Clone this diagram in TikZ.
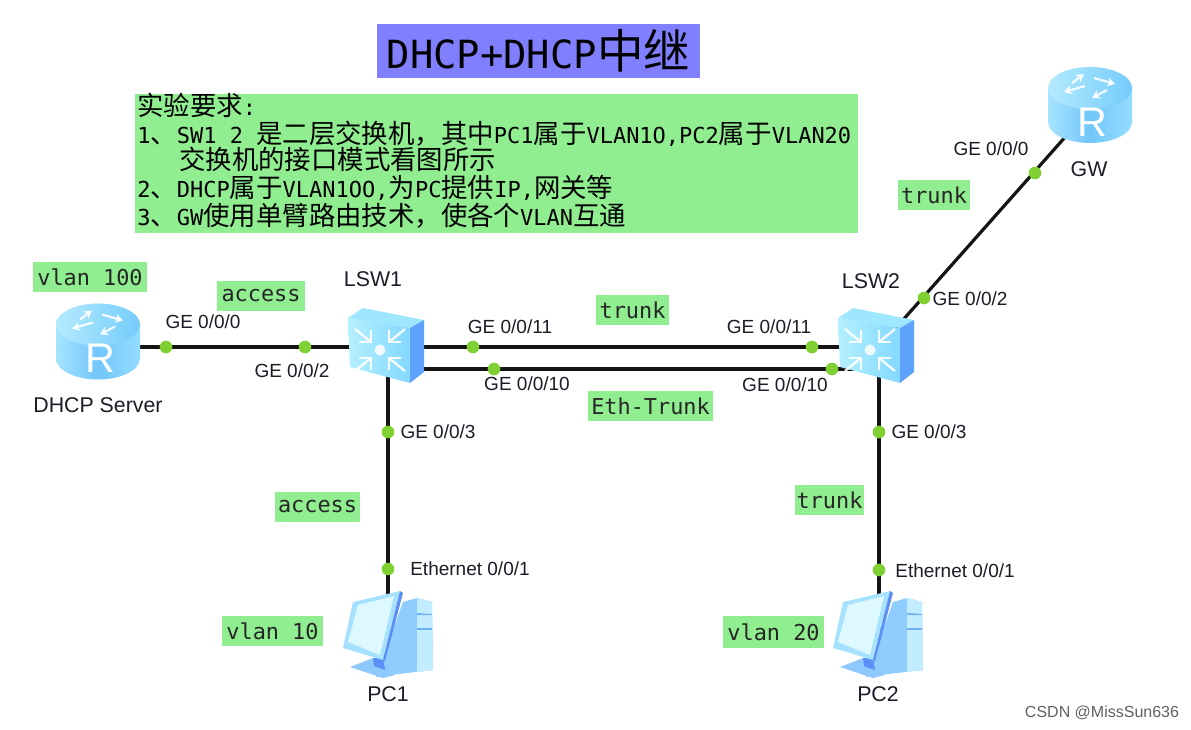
\documentclass[tikz,border=0pt]{standalone}
\usepackage{fontspec}
\usetikzlibrary{arrows.meta}
\setmainfont{Liberation Sans}
\newfontfamily\monof{DejaVu Sans Mono}
\newfontfamily\cjkf[Scale=1.2]{Noto Sans CJK SC}
\newcommand\zh[1]{{\cjkf #1}}
\definecolor{tagg}{HTML}{90EE90}
\definecolor{titleb}{HTML}{8080FF}
\definecolor{dotg}{HTML}{7FD133}
\definecolor{labc}{HTML}{1C1C28}
\definecolor{bodya}{HTML}{A6E4FF}
\definecolor{bodyb}{HTML}{72C6FA}
\definecolor{bodyc}{HTML}{94DCFF}
\definecolor{topa}{HTML}{B4EAFF}
\definecolor{topb}{HTML}{74CCFA}
\definecolor{swtop}{HTML}{9FE6FF}
\definecolor{swa}{HTML}{B4F0FF}
\definecolor{swb}{HTML}{84D8FF}
\definecolor{swside}{HTML}{5FA2FB}
\definecolor{pcside}{HTML}{90CDFF}
\definecolor{pcfront}{HTML}{C2ECFF}
\definecolor{pcslot}{HTML}{6FB0F8}
\definecolor{pcframe}{HTML}{A6E2FF}
\definecolor{pcscreen}{HTML}{DDF8FF}
\definecolor{pcedge}{HTML}{5B8FF5}
\definecolor{pcbase}{HTML}{8FC8FC}
\tikzset{
  x=0.75pt,y=-0.75pt,
  tagbox/.style={fill=tagg,inner sep=0pt,font=\monof\fontsize{16.4}{18}\selectfont,text=black!85},
  reqline/.style={anchor=west,inner sep=0pt,font=\monof\fontsize{16.5}{20}\selectfont,text=black},
  lab/.style={inner sep=0pt,text=labc,font=\fontsize{14.25}{16}\selectfont},
  devname/.style={inner sep=0pt,text=labc,font=\fontsize{16}{18}\selectfont},
  dev/.style={inner sep=0pt,minimum size=10pt},
  linkline/.style={line width=2.4pt,draw=black!92},
  portdot/.style={circle,fill=dotg,inner sep=0pt,minimum size=9.5pt},
  glyph/.style={draw=white,opacity=.85,line width=1.7pt},
  glyphtip/.style={glyph,-{Stealth[length=6pt,width=7pt]}},
  router/.pic={
    \shade[left color=bodya,right color=bodyc,middle color=bodyb]
      (-42,-17) -- (-42,17) arc[start angle=180,end angle=0,x radius=42,y radius=21] -- (42,-17) -- cycle;
    \shade[left color=topa,right color=topb]
      (0,-17) ellipse[x radius=42,y radius=21];
    \draw[glyphtip] (-18,-22) -- (-6,-31);
    \draw[glyphtip] (4,-27) -- (25,-21);
    \draw[glyphtip] (-5,-19) -- (-26,-13);
    \draw[glyphtip] (17,-15) -- (2,-7);
    \node[inner sep=0pt,text=white,font=\fontsize{31}{32}\selectfont] (-R) at (2,17) {R};
  },
  switchbox/.pic={
    \fill[swtop] (-38,-27) -- (-23,-37) -- (38,-25) -- (24,-17) -- cycle;
    \shade[left color=swa,right color=swb]
      (-38,-27) -- (24,-17) -- (24,38) -- (-36,22) -- cycle;
    \fill[swside] (24,-17) -- (38,-25) -- (38,27) -- (24,38) -- cycle;
    \foreach \dx/\dy in {-1/-1,1/-1,-1/1,1/1}{
      \draw[white,line width=1.8pt,opacity=.9] (-6+\dx*25,5+\dy*21) -- (-6+\dx*9,5+\dy*8);
      \draw[white,line width=1.8pt,opacity=.9] (-6+\dx*21,5+\dy*8) -- (-6+\dx*9,5+\dy*8) -- (-6+\dx*9,5+\dy*20);
    }
    \fill[white,opacity=.85] (-6,5) circle[radius=5.5];
  },
  pcbox/.pic={
    \fill[pcside] (-12,47) -- (15,-28) -- (29,-32) -- (44,-28) -- (45,40) -- (2,45) -- cycle;
    \fill[pcfront] (29,-32) -- (44,-28) -- (45,40) -- (29,42) -- cycle;
    \fill[pcslot] (29,-17) -- (44,-16) -- (44,-15) -- (29,-15) -- cycle;
    \fill[pcslot] (29,-2) -- (44,-2) -- (44,0) -- (29,0) -- cycle;
    \fill[pcbase] (-38,37) -- (-15,28) -- (7,45) -- (-5,48) -- cycle;
    \fill[pcedge] (-15,28) -- (-5,28) -- (-3,40) -- (-14,36) -- cycle;
    \fill[pcframe] (-45,18) -- (-35,-28) -- (12,-39) -- (-5,30) -- cycle;
    \fill[pcedge] (12,-39) -- (15,-37) -- (-3,31) -- (-5,30) -- cycle;
    \fill[pcscreen] (-40,12) -- (-30,-25) -- (6,-34) -- (-8,25) -- cycle;
  }
}
\begin{document}
\begin{tikzpicture}
\useasboundingbox (0,0) rectangle (1191,729);
\fill[white] (0,0) rectangle (1191,729);

% title and requirements
\node[fill=titleb,inner sep=0pt,minimum width=242pt,minimum height=40.5pt,text=black,
      font=\monof\fontsize{29.1}{32}\selectfont] (title) at (538.5,51) {DHCP+DHCP\zh{中继}};
\node[fill=tagg,inner sep=0pt,minimum width=542pt,minimum height=104pt] (req) at (496.5,163.5) {};
\node[reqline] (r1) at (137,105) {\zh{实验要求}:};
\node[reqline] (r2) at (137,134) {1\zh{、}SW1 2 \zh{是二层交换机，其中}PC1\zh{属于}VLAN1O,PC2\zh{属于}VLAN20};
\node[reqline] (r3) at (179,159) {\zh{交换机的接口模式看图所示}};
\node[reqline] (r4) at (137,188) {2\zh{、}DHCP\zh{属于}VLAN1OO,\zh{为}PC\zh{提供}IP,\zh{网关等}};
\node[reqline] (r5) at (137,216) {3\zh{、}GW\zh{使用单臂路由技术，使各个}VLAN\zh{互通}};

% device anchors
\node[dev] (dhcp) at (98,347) {};
\node[dev] (lsw1) at (388,347) {};
\node[dev] (lsw2) at (879,347) {};
\node[dev] (gw) at (1090,109) {};
\node[dev] (pc1) at (388,630) {};
\node[dev] (pc2) at (879,630) {};

% connectors
\draw[linkline] (dhcp.center) -- (lsw1.center);
\draw[linkline] (lsw1.center) -- (lsw2.center);
\draw[linkline] ([yshift=-16.5pt]lsw1.center) -- ([yshift=-16.5pt]lsw2.center);
\draw[linkline] (lsw1.center) -- (pc1.center);
\draw[linkline] (lsw2.center) -- (pc2.center);
\draw[linkline] (lsw2.center) -- (gw.center);

% device icons
\pic (icondhcp) at (98,341.5) {router};
\pic (icongw) at (1090,105) {router};
\pic (iconsw1) at (386,345) {switchbox};
\pic (iconsw2) at (876,345) {switchbox};
\pic (iconpc1) at (388,630) {pcbox};
\pic (iconpc2) at (878,630) {pcbox};

% port dots
\node[portdot] (d1) at (166,347) {};
\node[portdot] (d2) at (305,347) {};
\node[portdot] (d3) at (473,347) {};
\node[portdot] (d4) at (812,347) {};
\node[portdot] (d5) at (494,369) {};
\node[portdot] (d6) at (832,369) {};
\node[portdot] (d7) at (388,432) {};
\node[portdot] (d8) at (388,569) {};
\node[portdot] (d9) at (879,432) {};
\node[portdot] (d10) at (879,570) {};
\node[portdot] (d11) at (924,298) {};
\node[portdot] (d12) at (1035,173) {};

% port and device labels
\node[lab] (l1) at (203,322) {GE 0/0/0};
\node[lab] (l2) at (292,371) {GE 0/0/2};
\node[lab] (l3) at (510,327) {GE 0/0/11};
\node[lab] (l4) at (769,327) {GE 0/0/11};
\node[lab] (l5) at (527,384) {GE 0/0/10};
\node[lab] (l6) at (785,385) {GE 0/0/10};
\node[lab] (l7) at (438,432) {GE 0/0/3};
\node[lab] (l8) at (929,432) {GE 0/0/3};
\node[lab] (l9) at (470,569) {Ethernet 0/0/1};
\node[lab] (l10) at (955,571) {Ethernet 0/0/1};
\node[lab] (l11) at (970,299) {GE 0/0/2};
\node[lab] (l12) at (991,149) {GE 0/0/0};
\node[devname] (n1) at (98,405) {DHCP Server};
\node[devname] (n2) at (373,279) {LSW1};
\node[devname] (n3) at (871,281) {LSW2};
\node[devname] (n4) at (1089,169) {GW};
\node[devname] (n5) at (388,694) {PC1};
\node[devname] (n6) at (878,694) {PC2};

% mode tags
\node[tagbox,minimum width=85.5pt,minimum height=22.5pt] (t1) at (90,277) {vlan 100};
\node[tagbox,minimum width=66pt,minimum height=22.5pt] (t2) at (261,296) {access};
\node[tagbox,minimum width=54pt,minimum height=22.5pt] (t3) at (934,195) {trunk};
\node[tagbox,minimum width=54.5pt,minimum height=22.5pt] (t4) at (632.5,310) {trunk};
\node[tagbox,minimum width=94pt,minimum height=22.5pt] (t5) at (650.5,406) {Eth-Trunk};
\node[tagbox,minimum width=64pt,minimum height=22.5pt] (t6) at (317.5,507) {access};
\node[tagbox,minimum width=52pt,minimum height=22.5pt] (t7) at (829.5,500) {trunk};
\node[tagbox,minimum width=76pt,minimum height=22.5pt] (t8) at (272.5,631) {vlan 10};
\node[tagbox,minimum width=76pt,minimum height=23.5pt] (t9) at (773.5,632) {vlan 20};

% watermark
\node[inner sep=0pt,text=black!62,font=\fontsize{12}{14}\selectfont] (wm) at (1102,713) {CSDN @MissSun636};
\end{tikzpicture}
\end{document}
